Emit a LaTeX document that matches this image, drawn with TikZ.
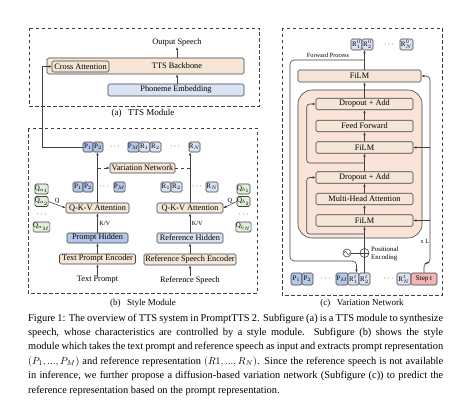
\documentclass[tikz,border=0pt]{standalone}
\usepackage{fontspec}
\setmainfont{Liberation Serif}
\usepackage{xcolor}
\usepackage{tikz}
\usetikzlibrary{calc}
\usetikzlibrary{arrows.meta}

\definecolor{edge}{RGB}{64,64,64}
\definecolor{beige}{RGB}{245,230,215}
\definecolor{blockpink}{RGB}{250,228,218}
\definecolor{darkblue}{RGB}{180,199,231}
\definecolor{lightblue}{RGB}{218,227,243}
\definecolor{qgreen}{RGB}{226,240,217}
\definecolor{steppink}{RGB}{240,180,180}

\begin{document}
\begin{tikzpicture}[x=1pt, y=-1pt,
    blk/.style={draw=edge, line width=0.6pt, rounded corners=1.5pt, fill=beige, inner sep=0pt, font=\fontsize{8.3}{9}\selectfont},
    tok/.style={draw=edge, line width=0.6pt, rounded corners=1.5pt, inner sep=0pt, minimum height=10, font=\fontsize{7}{8}\selectfont},
    module/.style={draw=edge, line width=0.9pt, dash pattern=on 3.5pt off 2.5pt},
    arr/.style={draw=edge, line width=0.6pt, -{Latex[length=3pt,width=2.6pt]}},
    lbl/.style={font=\fontsize{8.3}{9}\selectfont, inner sep=0pt},
    small/.style={font=\fontsize{6.3}{7}\selectfont, inner sep=0pt},
    subcap/.style={font=\fontsize{9}{10}\selectfont, inner sep=0pt}
]
    \useasboundingbox (0,0) rectangle (474,404);

    % (a) TTS module
    \draw[module] (29,28) rectangle (259,106);
    \node[lbl] (outsp) at (177,43) {Output Speech};
    \node[blk, minimum width=197, minimum height=16] (tts) at (145.5,66) {};
    \node[lbl] (ttslbl) at (177,66) {TTS Backbone};
    \node[blk, minimum width=57, minimum height=11] (cross) at (80.5,66.5) {Cross Attention};
    \node[blk, fill=lightblue, minimum width=136, minimum height=12] (phon) at (176,90) {Phoneme Embedding};
    \draw[arr] (phon.north -| ttslbl) -- (tts.south -| ttslbl);
    \draw[arr] (tts.north -| ttslbl) -- (outsp.south);
    \node[subcap] (capa) at (143,113) {(a)\hspace{0.7em}TTS Module};

    % (b) Style module
    \draw[module] (28,128) rectangle (257,293);
    \node[subcap] (capb) at (143,303) {(b)\hspace{0.7em}Style Module};

    % output row
    \foreach \n/\x/\w/\t/\c in {tP1/88/10/P$_1$/darkblue, tP2/98/10/P$_2$/darkblue,
        tPM/133.5/11/P$_M$/darkblue, tR1/144.5/11/R$_1$/lightblue,
        tR2/155.5/11/R$_2$/lightblue, tRN/194.5/11/R$_N$/lightblue}{
        \node[tok, fill=\c, minimum width=\w] (\n) at (\x,147) {\t};
    }
    \node[lbl] (tdotsP) at (115,147) {$\cdots$};
    \node[lbl] (tdotsR) at (175,147) {$\cdots$};

    % query outputs
    \foreach \n/\x/\w/\t/\c in {mP1/78/10/P$_1$/darkblue, mP2/88/10/P$_2$/darkblue,
        mPM/119.5/11/P$_M$/darkblue, mR1/166/10/R$_1$/lightblue,
        mR2/176.5/11/R$_2$/lightblue, mRN/212/12/R$_N$/lightblue}{
        \node[tok, fill=\c, minimum width=\w] (\n) at (\x,187) {\t};
    }
    \node[lbl] (mdotsP) at (104,187) {$\cdots$};
    \node[lbl] (mdotsR) at (197,187) {$\cdots$};

    \node[blk, minimum width=65, minimum height=10] (vn) at (142.5,168) {Variation Network};

    \node[blk, minimum width=63, minimum height=10] (qkvP) at (97.5,208) {Q-K-V Attention};
    \node[blk, minimum width=66, minimum height=10] (qkvR) at (190,208) {Q-K-V Attention};
    \node[blk, fill=darkblue, minimum width=61, minimum height=10] (phid) at (97.5,238) {Prompt Hidden};
    \node[blk, fill=lightblue, minimum width=66, minimum height=10] (rhid) at (190,238) {Reference Hidden};
    \node[blk, minimum width=76, minimum height=10] (tpe) at (97.5,259) {Text Prompt Encoder};
    \node[blk, minimum width=92, minimum height=11] (rse) at (190,259.5) {Reference Speech Encoder};
    \node[lbl] (tp) at (97.5,280) {Text Prompt};
    \node[lbl] (rs) at (190,280) {Reference Speech};

    % learnable queries
    \foreach \s/\x in {a/41.5, b/243.5}{
        \node[tok, fill=qgreen, minimum width=13] (q\s1) at (\x,189) {Q$_{\s_1}$};
        \node[tok, fill=qgreen, minimum width=13] (q\s2) at (\x,201.5) {Q$_{\s_2}$};
        \node[lbl] (qdots\s) at (\x,215) {$\cdots$};
    }
    \node[tok, fill=qgreen, minimum width=13] (qaM) at (41.5,227) {Q$_{a_M}$};
    \node[tok, fill=qgreen, minimum width=13] (qbN) at (243.5,227) {Q$_{b_N}$};

    \draw[arr] (tp.north) -- (tpe.south);
    \draw[arr] (rs.north) -- (rse.south);
    \draw[arr] (tpe.north) -- (phid.south);
    \draw[arr] (rse.north) -- (rhid.south);
    \draw[arr] (phid.north) -- node[small, right=1.5pt] {K/V} (qkvP.south);
    \draw[arr] (rhid.north) -- node[small, right=1.5pt] {K/V} (qkvR.south);
    \draw[arr] (qa2.east) -- node[small, above=1pt] {Q} (qkvP.west);
    \draw[arr] (qb2.west) -- node[small, above=1pt] {Q} (qkvR.east);
    \draw[arr] (qkvP.north) -- (qkvP.north |- tP2.south);
    \draw[arr] (qkvR.north) -- (qkvR.north |- tRN.south);
    \draw[arr, dashed] (qkvP.north |- vn.west) -- (vn.west);
    \draw[draw=edge, line width=0.6pt, dashed] (vn.east) -- (vn.east -| qkvR.north);
    \draw[arr] (tP1.west) -| ($(cross.west)+(-9,0)$) -- (cross.west);

    % (c) Variation network
    \draw[module] (282,28) rectangle (442,295);
    \node[subcap] (capc) at (362,303) {(c)\hspace{0.7em}Variation Network};

    \draw[draw=edge, line width=0.6pt, fill=blockpink, rounded corners=14pt] (298,90) rectangle (422,238);

    \foreach \n/\x/\w/\t in {r01/356.5/11/R$^0_1$, r02/367.5/11/R$^0_2$, r0N/406.5/13/R$^0_N$}{
        \node[tok, fill=lightblue, minimum width=\w, minimum height=11] (\n) at (\x,44.5) {\t};
    }
    \node[lbl] (r0dots) at (389,44.5) {$\cdots$};

    \node[blk, minimum width=123, minimum height=12] (film3) at (359.5,76) {FiLM};
    \foreach \n/\y/\t in {dr1/104/Dropout + Add, ff/126/Feed Forward, film2/147.5/FiLM,
        dr2/177.5/Dropout + Add, mha/199/Multi-Head Attention, film1/220.5/FiLM}{
        \node[blk, minimum width=97, minimum height=11.5] (\n) at (364.5,\y) {\t};
    }

    \foreach \n/\x/\w/\t/\c in {bP1/296.5/11/P$_1$/darkblue, bP2/307.5/11/P$_2$/darkblue,
        bPM/342/12/P$_M$/darkblue, rt1/353.5/11/R$^t_1$/lightblue,
        rt2/364.5/11/R$^t_2$/lightblue, rtN/404/14/R$^t_N$/lightblue,
        stept/424/26/Step t/steppink}{
        \node[tok, fill=\c, minimum width=\w, minimum height=12] (\n) at (\x,279) {\t};
    }
    \node[lbl] (bdotsP) at (325.5,279) {$\cdots$};
    \node[lbl] (bdotsR) at (388.5,279) {$\cdots$};

    % positional encoding
    \node[circle, draw=edge, line width=0.6pt, minimum size=8, inner sep=0pt] (sine) at (347,253) {};
    \draw[edge, line width=0.5pt, shift={(sine.center)}] plot[domain=-2.8:2.8, samples=25] (\x, {1.5*sin(\x*64)});
    \node[circle, draw=edge, line width=0.6pt, minimum size=9, inner sep=0pt] (plus) at (364.5,253) {};
    \draw[edge, line width=0.6pt] (plus.north) -- (plus.south) (plus.west) -- (plus.east);
    \draw[edge, line width=0.6pt] (sine.east) -- (plus.west);
    \node[small, font=\fontsize{6.8}{8}\selectfont, anchor=west, align=left] (posenc) at (371,254) {Positional\\Encoding};
    \node[small] (xl) at (425,241) {x L};

    % main stream
    \draw[edge, line width=0.6pt] (rt2.north) -- (plus.south);
    \draw[arr] (plus.north) -- (film1.south);
    \draw[arr] (film1.north) -- (mha.south);
    \draw[arr] (mha.north) -- (dr2.south);
    \draw[arr] (dr2.north) -- (film2.south);
    \draw[arr] (film2.north) -- (ff.south);
    \draw[arr] (ff.north) -- (dr1.south);
    \draw[arr] (dr1.north) -- (dr1.north |- film3.south);
    \draw[arr] (dr1.north |- film3.north) -- (dr1.north |- r02.south);

    % residual paths
    \coordinate (res1) at (364.5,163);
    \coordinate (res2) at (364.5,234);
    \draw[arr, rounded corners=3pt] (res1) -| ($(dr1.west)+(-9,0)$) -- (dr1.west);
    \draw[arr, rounded corners=3pt] (res2) -| ($(dr2.west)+(-9,0)$) -- (dr2.west);

    % diffusion step condition
    \coordinate (cbot) at (430,263);
    \draw[arr, rounded corners=4pt] (stept.north) |- (cbot) -- (cbot |- film3.east) -- (film3.east);
    \draw[arr] (cbot |- film2.east) -- (film2.east);
    \draw[arr] (cbot |- film1.east) -- (film1.east);

    % forward process
    \coordinate (fpstart) at (364.5,60);
    \coordinate (fpleft) at (290,261);
    \draw[arr, rounded corners=4pt] (fpstart) -| (fpleft) -| ([xshift=3pt]rt1.north);
    \node[small] (fplbl) at (328,55.5) {Forward Process};

    % caption
    \node[anchor=north west, text width=415pt, inner sep=0pt, align=justify,
        font=\fontsize{10.4}{14.4}\selectfont] (caption) at (28,313.5) {Figure 1: The overview of TTS system in PromptTTS 2. Subfigure (a) is a TTS module to synthesize\linebreak
        speech, whose characteristics are controlled by a style module.\ \ Subfigure (b) shows the style\linebreak
        module which takes the text prompt and reference speech as input and extracts prompt representation\linebreak
        $(P_1, ..., P_M)$ and reference representation $(R1, ..., R_N)$. Since the reference speech is not available\linebreak
        in inference, we further propose a diffusion-based variation network (Subfigure (c)) to predict the\linebreak
        reference representation based on the prompt representation.};
\end{tikzpicture}
\end{document}
